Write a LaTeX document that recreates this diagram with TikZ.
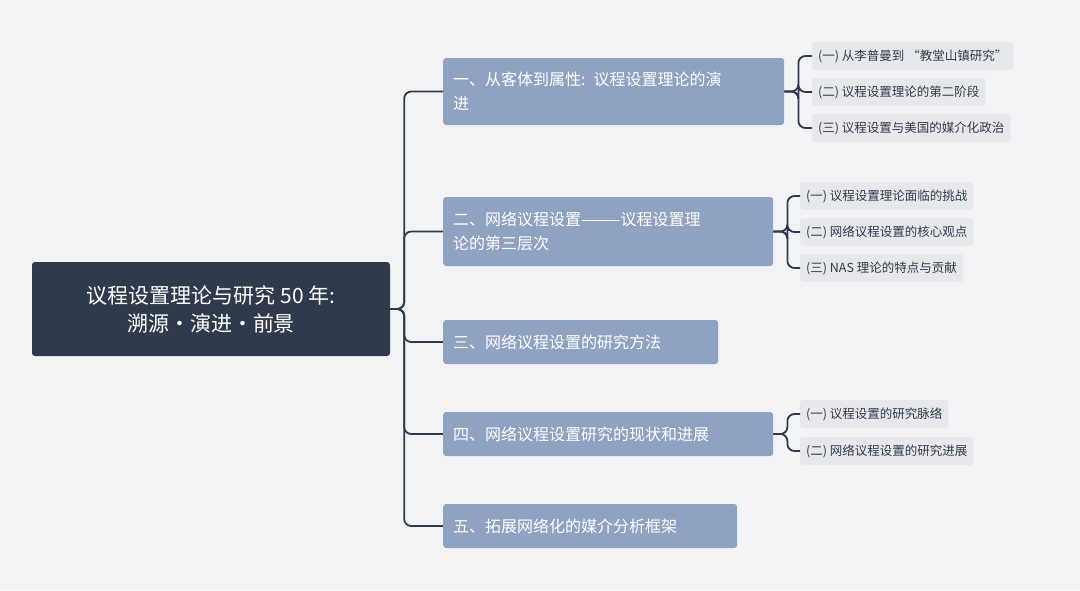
\documentclass[tikz,border=0pt]{standalone}
\usepackage{fontspec}
\setmainfont{Noto Sans CJK SC}
\begin{document}
\begin{tikzpicture}[x=1pt,y=-1pt,
 root/.style={fill=rootc,rounded corners=3,text=white,font=\fontsize{21}{28}\selectfont,align=center,inner sep=0,minimum width=358,minimum height=94},
 br/.style={fill=brc,rounded corners=3,text=white,font=\fontsize{16}{24}\selectfont,align=left,inner sep=0,anchor=west,minimum height=#1},
 lf/.style={fill=lfc,rounded corners=3,text=txc,font=\fontsize{12.5}{15}\selectfont,inner xsep=6,anchor=west,minimum height=28},
 ln/.style={draw=linec,line width=1.8,rounded corners=7}]
\definecolor{bg}{HTML}{F2F3F5}
\definecolor{rootc}{HTML}{2F3B4C}
\definecolor{brc}{HTML}{8FA2C1}
\definecolor{lfc}{HTML}{E6E8EC}
\definecolor{txc}{HTML}{2F3B4C}
\definecolor{linec}{HTML}{2F3B4C}
\fill[bg] (0,0) rectangle (1080,590);
\node[root] (r) at (211,309) {议程设置理论与研究 50 年:\\溯源·演进·前景};
\node[br=67,minimum width=341,text width=321,inner xsep=10] (b1) at (443,91.5) {一、从客体到属性: 议程设置理论的演\\进};
\node[br=69,minimum width=330,text width=310,inner xsep=10] (b2) at (443,231.5) {二、网络议程设置———议程设置理\\论的第三层次};
\node[br=44,minimum width=275,text width=255,inner xsep=10] (b3) at (443,342) {三、网络议程设置的研究方法};
\node[br=44,minimum width=330,text width=310,inner xsep=10] (b4) at (443,434) {四、网络议程设置研究的现状和进展};
\node[br=44,minimum width=294,text width=274,inner xsep=10] (b5) at (443,526) {五、拓展网络化的媒介分析框架};
\node[lf] (l1a) at (812,56) {(一) 从李普曼到 “教堂山镇研究”};
\node[lf] (l1b) at (812,92) {(二) 议程设置理论的第二阶段};
\node[lf] (l1c) at (812,128) {(三) 议程设置与美国的媒介化政治};
\node[lf] (l2a) at (800,196) {(一) 议程设置理论面临的挑战};
\node[lf] (l2b) at (800,232) {(二) 网络议程设置的核心观点};
\node[lf] (l2c) at (800,268) {(三) NAS 理论的特点与贡献};
\node[lf] (l4a) at (800,414) {(一) 议程设置的研究脉络};
\node[lf] (l4b) at (800,451) {(二) 网络议程设置的研究进展};
\foreach \b in {b1,b2,b3,b4,b5}
  \draw[ln] (r.east) -- ++(14,0) |- (\b.west);
\foreach \l in {l1a,l1b,l1c}
  \draw[ln] (b1.east) -- ++(14,0) |- (\l.west);
\foreach \l in {l2a,l2b,l2c}
  \draw[ln] (b2.east) -- ++(14,0) |- (\l.west);
\foreach \l in {l4a,l4b}
  \draw[ln] (b4.east) -- ++(14,0) |- (\l.west);
\end{tikzpicture}
\end{document}
